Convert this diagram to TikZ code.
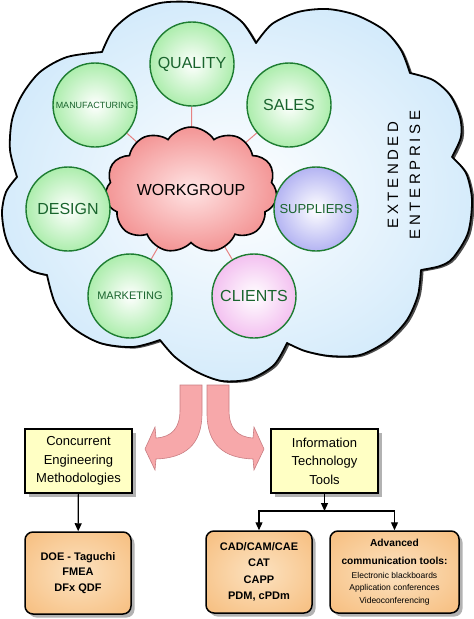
\documentclass[tikz,border=0pt]{standalone}
\usepackage{fontspec}
\setmainfont{Liberation Sans}
\newfontfamily\spacedfont[LetterSpace=24]{Liberation Sans}
\usetikzlibrary{shapes.symbols,shadows,arrows.meta,backgrounds}

\definecolor{circedge}{RGB}{30,125,50}
\definecolor{textgreen}{RGB}{25,100,45}
\definecolor{greenfill}{RGB}{130,228,130}
\definecolor{bluefill}{RGB}{135,135,235}
\definecolor{pinkfill}{RGB}{235,150,230}
\definecolor{redfill}{RGB}{235,95,95}
\definecolor{redlight}{RGB}{255,228,228}
\definecolor{cloudblue}{RGB}{185,222,248}
\definecolor{linkred}{RGB}{230,130,130}
\definecolor{boxyellow}{RGB}{255,255,196}
\definecolor{orangefill}{RGB}{244,175,100}
\definecolor{orangelight}{RGB}{252,226,192}
\definecolor{arrowpink}{RGB}{247,168,170}
\definecolor{arrowedge}{RGB}{200,125,130}

\pgfdeclareradialshading{greenball}{\pgfpoint{0bp}{0bp}}{color(0bp)=(white); color(38bp)=(greenfill); color(100bp)=(greenfill)}
\pgfdeclareradialshading{blueball}{\pgfpoint{0bp}{0bp}}{color(0bp)=(white); color(40bp)=(bluefill); color(100bp)=(bluefill)}
\pgfdeclareradialshading{pinkball}{\pgfpoint{0bp}{0bp}}{color(0bp)=(white); color(42bp)=(pinkfill); color(100bp)=(pinkfill)}
\pgfdeclareradialshading{redcloud}{\pgfpoint{0bp}{0bp}}{color(0bp)=(redlight); color(42bp)=(redfill); color(100bp)=(redfill)}
\pgfdeclareradialshading{bluecloud}{\pgfpoint{0bp}{0bp}}{color(0bp)=(white); color(42bp)=(cloudblue); color(100bp)=(cloudblue)}
\pgfdeclareradialshading{orangebox}{\pgfpoint{0bp}{0bp}}{color(0bp)=(orangelight); color(50bp)=(orangefill); color(100bp)=(orangefill)}

\pgfdeclarelayer{back}
\pgfsetlayers{back,background,main}

\tikzset{
  dept/.style={circle, draw=circedge, line width=1.4pt, minimum size=84pt, inner sep=0pt,
    shading=greenball, text=textgreen, font=\fontsize{16}{18}\selectfont},
  smalldept/.style={dept, font=\fontsize{9.5}{11}\selectfont},
  link/.style={draw=linkred, line width=1pt},
  bigcloud/.style={draw=black, line width=1.8pt, line join=round, shading=bluecloud,
    drop shadow={shadow xshift=2.5pt, shadow yshift=-1.5pt, fill=black!70, opacity=1}},
  bigarrow/.style={fill=arrowpink, draw=arrowedge, line width=0.6pt},
  methodbox/.style={rectangle, draw=black, line width=1.5pt, fill=boxyellow,
    minimum width=107pt, minimum height=64pt, align=center, font=\fontsize{13}{18.5}\selectfont,
    drop shadow={shadow xshift=3.5pt, shadow yshift=-3.5pt, fill=black!30, opacity=1}},
  toolbox/.style={rectangle, rounded corners=8pt, draw=black, line width=1.5pt, shading=orangebox,
    minimum width=106pt, minimum height=82pt, align=center, font=\bfseries\fontsize{11}{15.5}\selectfont,
    drop shadow={shadow xshift=3.5pt, shadow yshift=-3.5pt, fill=black!30, opacity=1}},
  arrow/.style={line width=1.2pt, -{Triangle[length=8pt,width=7pt]}},
}

\begin{document}
\begin{tikzpicture}[x=1pt, y=-1pt]
\useasboundingbox (0,0) rectangle (474,619);

% extended enterprise cloud
\begin{pgfonlayer}{back}
\path[bigcloud] plot[smooth] coordinates {(17,177) (10,150) (12,120) (22,95) (40,72) (67,57) (102,52)}
  -- plot[smooth] coordinates {(102,52) (113,30) (133,13) (160,3) (190,2) (220,8) (242,22) (256,43)}
  -- plot[smooth] coordinates {(256,43) (272,24) (298,12) (327,9) (356,15) (384,30) (401,50) (410,73)}
  -- plot[smooth] coordinates {(410,73) (433,80) (450,95) (460,117) (461,137) (452,157)}
  -- plot[smooth] coordinates {(452,157) (466,173) (472,200) (468,233) (453,258) (440,266) (421,270)}
  -- plot[smooth] coordinates {(421,270) (418,295) (407,320) (387,341) (360,355) (330,356) (305,351) (287,343)}
  -- plot[smooth] coordinates {(287,343) (274,365) (250,379) (222,381) (197,372) (175,357) (160,340)}
  -- plot[smooth] coordinates {(160,340) (133,347) (100,343) (72,327) (55,303) (47,275)}
  -- plot[smooth] coordinates {(47,275) (30,270) (13,253) (5,235) (2,212) (6,192) (17,177)}
  -- cycle;
\end{pgfonlayer}

\node[rotate=90, align=center, font=\spacedfont\fontsize{15}{22}\selectfont] (ee) at (404,175) {EXTENDED\\ENTERPRISE};

% workgroup and departments
\node[cloud, cloud puffs=11, cloud puff arc=115, aspect=1.55, draw, line width=1.6pt, shading=redcloud,
  minimum width=146pt, minimum height=92pt, font=\fontsize{16}{18}\selectfont] (wg) at (191,190) {WORKGROUP};

\node[dept] (quality) at (192,64) {QUALITY};
\node[smalldept, font=\fontsize{9}{11}\selectfont] (manuf) at (95,105) {MANUFACTURING};
\node[dept] (sales) at (289,105) {SALES};
\node[dept] (design) at (68,209) {DESIGN};
\node[dept, shading=blueball, font=\fontsize{13}{15}\selectfont] (suppl) at (316,209) {SUPPLIERS};
\node[smalldept, font=\fontsize{11}{13}\selectfont] (market) at (130,296) {MARKETING};
\node[dept, shading=pinkball] (clients) at (254,296) {CLIENTS};

\begin{pgfonlayer}{background}
\foreach \d in {quality,manuf,sales,design,suppl,market,clients}
  \draw[link] (wg.center) -- (\d);
\end{pgfonlayer}

% big arrows
\draw[bigarrow] (180,385) -- (180,410) .. controls (180,428) and (172,437) .. (156,438) -- (155,427)
  -- (145,449) -- (155,470) -- (156,459) .. controls (185,458) and (202,445) .. (202,413) -- (202,385) -- cycle;
\begin{scope}[xshift=409pt, xscale=-1]
\draw[bigarrow] (180,385) -- (180,410) .. controls (180,428) and (172,437) .. (156,438) -- (155,427)
  -- (145,449) -- (155,470) -- (156,459) .. controls (185,458) and (202,445) .. (202,413) -- (202,385) -- cycle;
\end{scope}

% boxes
\node[methodbox] (cem) at (78.5,461) {Concurrent\\Engineering\\Methodologies};
\node[methodbox] (itt) at (324.5,461) {Information\\Technology\\Tools};

\node[toolbox] (doe) at (78,573) {DOE - Taguchi\\FMEA\\DFx QDF};
\node[toolbox, font=\bfseries\fontsize{11}{16.3}\selectfont] (cad) at (259,572) {CAD/CAM/CAE\\CAT\\CAPP\\PDM, cPDm};
\node[toolbox, minimum width=129pt, font=\bfseries\fontsize{10.2}{13}\selectfont] (adv) at (394.5,572)
  {Advanced\\[5pt]communication tools:\\[1pt]{\mdseries\fontsize{8.5}{10}\selectfont Electronic blackboards}\\[-0.5pt]{\mdseries\fontsize{8.5}{10}\selectfont Application conferences}\\[-0.5pt]{\mdseries\fontsize{8.5}{10}\selectfont Videoconferencing}};

\coordinate (split) at (324.5,511);
\draw[arrow] (cem) -- (doe);
\draw[arrow] (itt) -- (split);
\draw[arrow] (split) -| (cad);
\draw[arrow] (split) -| (adv);
\end{tikzpicture}
\end{document}
